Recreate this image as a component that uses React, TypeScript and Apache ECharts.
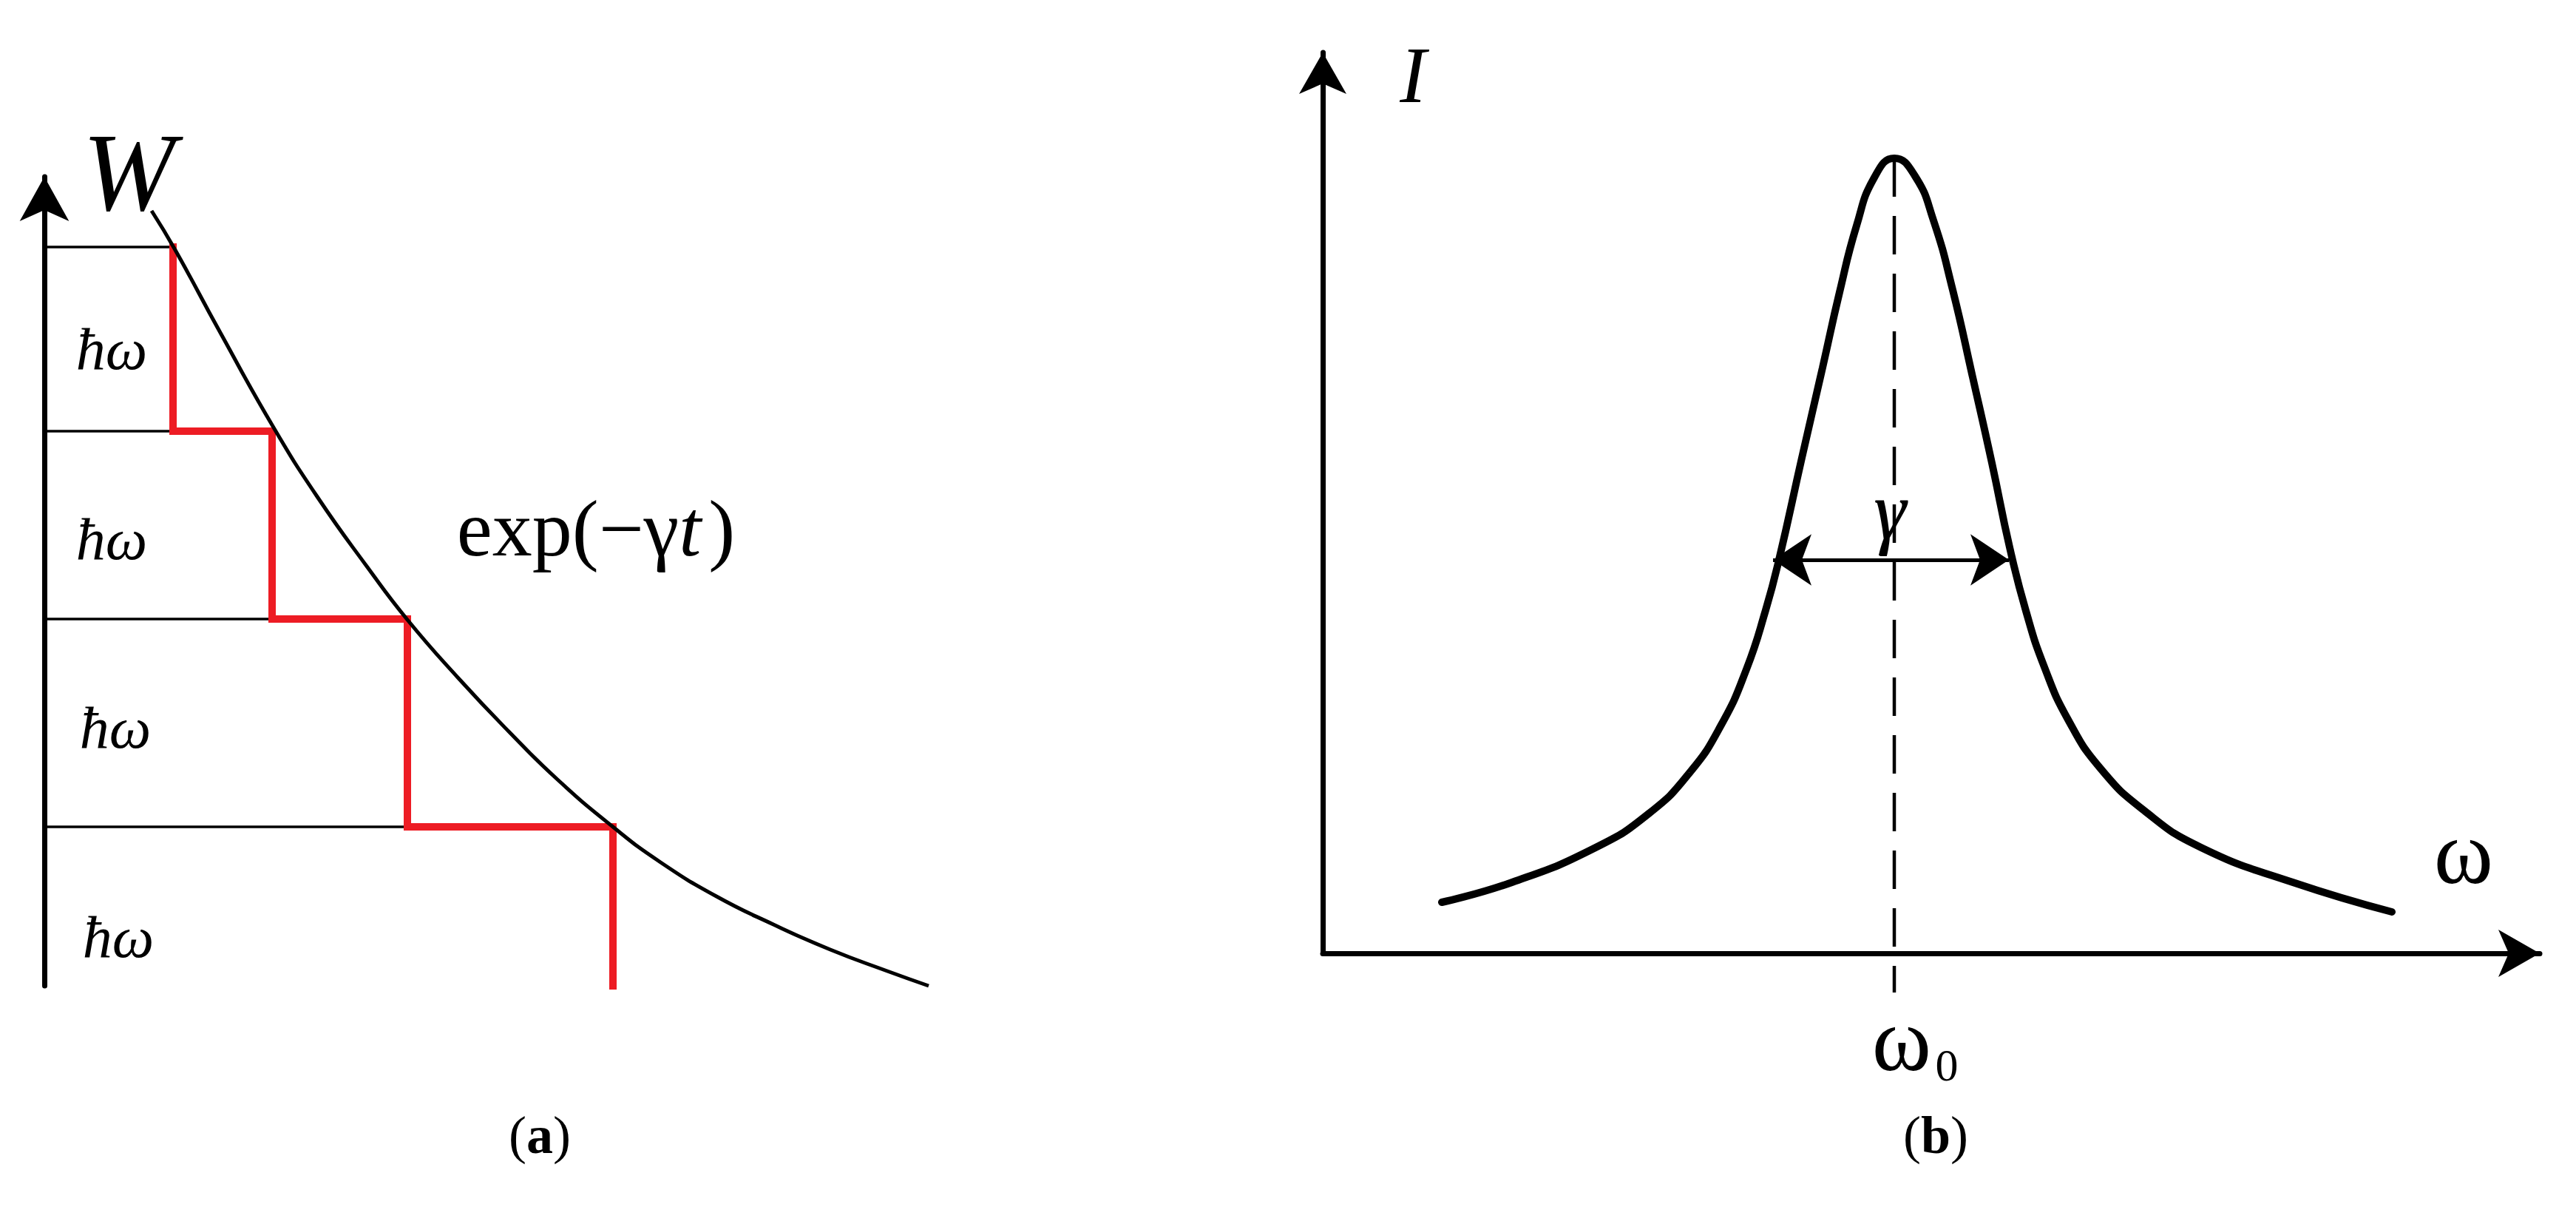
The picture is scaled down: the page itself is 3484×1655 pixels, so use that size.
import React, { useEffect, useRef } from "react";
import * as echarts from "echarts";

// ---------- Panel (a): energy decay W(t) ----------
const decayT = [1.45, 1.77, 2.37, 3.10, 3.70, 4.37, 4.91, 5.60, 6.29, 6.94, 7.69, 8.32, 9.09, 9.86, 10.63, 11.40, 11.96];
const decayW = [10.48, 9.95, 8.85, 7.55, 6.60, 5.66, 4.95, 4.16, 3.43, 2.79, 2.15, 1.68, 1.21, 0.83, 0.49, 0.20, 0.0];
const levelW = [9.99, 7.5, 4.96, 2.15];
const levelStartT = [-0.18, -0.18, -0.08, -0.02];
const stepT = [1.74, 3.08, 4.91, 7.69];
const quantumLabels = ["ħω", "ħω", "ħω", "ħω"];

// ---------- Panel (b): resonance line I(ω) ----------
const lineOmega = [1.61, 2.56, 3.69, 4.41, 4.96, 5.39, 5.73, 5.99, 6.17, 6.48, 6.76, 6.99, 7.22, 7.46, 7.73, 8.01, 8.26, 8.52, 8.79, 9.05, 9.29, 9.51, 9.76, 10.08, 10.51, 11.11, 11.88, 13.12, 14.46];
const lineI = [0.69, 0.96, 1.43, 1.89, 2.44, 3.09, 3.84, 4.64, 5.32, 6.70, 7.92, 8.94, 9.84, 10.49, 10.75, 10.51, 9.91, 8.97, 7.79, 6.63, 5.49, 4.63, 3.87, 3.16, 2.51, 1.93, 1.43, 0.96, 0.56];
const omega0 = 7.73;
const peakI = 10.75;
const dashBottomI = -0.53;
const gammaLeft = 6.09;
const gammaRight = 9.28;
const gammaLevel = 5.32;

const SERIF = '"Liberation Serif", "Times New Roman", serif';

function App() {
  const ref = useRef<HTMLDivElement>(null);

  useEffect(() => {
    document.body.style.margin = "0";
    if (!ref.current) return;
    const chart = echarts.init(ref.current, undefined, { renderer: "svg" });

    const decayData = decayT.map((t, i) => [t, decayW[i]]);
    const stepData: number[][] = [];
    stepT.forEach((t, i) => {
      stepData.push([t, levelW[i]]);
      stepData.push([t, i + 1 < levelW.length ? levelW[i + 1] : 0]);
    });
    const levelSeries = levelW.map((w, i) => ({
      type: "line",
      xAxisIndex: 0,
      yAxisIndex: 0,
      data: [
        [levelStartT[i], w],
        [stepT[Math.max(0, i - 1)], w],
      ],
      symbol: "none",
      clip: false,
      lineStyle: { color: "#000", width: 3.5 },
      z: 2,
    }));

    const resonanceData = lineOmega.map((o, i) => [o, lineI[i]]);

    const text = (x: number, y: number, t: string, size: number, italic = false) => ({
      type: "text",
      x,
      y,
      silent: true,
      style: {
        text: t,
        fontFamily: SERIF,
        fontSize: size,
        fontStyle: italic ? "italic" : "normal",
        fill: "#000",
        align: "center",
        verticalAlign: "middle",
      },
    });

    const labelPos = [
      [151, 472],
      [151, 729],
      [156, 984],
      [160, 1267],
    ];

    const hiddenAxisParts = {
      axisTick: { show: false },
      axisLabel: { show: false },
      splitLine: { show: false },
    };

    chart.setOption({
      animation: false,
      backgroundColor: "#fff",
      grid: [
        { left: 60, top: 239, width: 1200, height: 1094 },
        { left: 1789, top: 71, width: 1646, height: 1218 },
      ],
      xAxis: [
        { type: "value", gridIndex: 0, min: 0, max: 12, show: false },
        {
          type: "value",
          gridIndex: 1,
          min: 0,
          max: 16.46,
          axisLine: {
            show: true,
            onZero: false,
            symbol: ["none", "arrow"],
            symbolSize: [48, 56],
            lineStyle: { color: "#000", width: 7 },
          },
          ...hiddenAxisParts,
        },
      ],
      yAxis: [
        {
          type: "value",
          gridIndex: 0,
          min: 0,
          max: 10.94,
          axisLine: {
            show: true,
            onZero: false,
            symbol: ["none", "arrow"],
            symbolSize: [50, 60],
            lineStyle: { color: "#000", width: 7 },
          },
          ...hiddenAxisParts,
        },
        {
          type: "value",
          gridIndex: 1,
          min: 0,
          max: 12.18,
          axisLine: {
            show: true,
            onZero: false,
            symbol: ["none", "arrow"],
            symbolSize: [48, 56],
            lineStyle: { color: "#000", width: 7 },
          },
          ...hiddenAxisParts,
        },
      ],
      series: [
        ...levelSeries,
        {
          type: "line",
          xAxisIndex: 0,
          yAxisIndex: 0,
          data: stepData,
          symbol: "none",
          clip: false,
          lineStyle: { color: "#ED1C24", width: 10, cap: "square", join: "miter" },
          z: 3,
        },
        {
          type: "line",
          xAxisIndex: 0,
          yAxisIndex: 0,
          data: decayData,
          symbol: "none",
          smooth: 0.5,
          clip: false,
          lineStyle: { color: "#000", width: 5 },
          z: 4,
        },
        {
          type: "line",
          xAxisIndex: 1,
          yAxisIndex: 1,
          data: [
            [omega0, peakI],
            [omega0, dashBottomI],
          ],
          symbol: "none",
          clip: false,
          lineStyle: { color: "#000", width: 4.5, type: [52, 26] },
          z: 2,
          markLine: {
            silent: true,
            symbol: ["arrow", "arrow"],
            symbolSize: 52,
            label: { show: false },
            lineStyle: { color: "#000", width: 5, type: "solid" },
            data: [[{ coord: [gammaLeft, gammaLevel] }, { coord: [gammaRight, gammaLevel] }]],
          },
        },
        {
          type: "line",
          xAxisIndex: 1,
          yAxisIndex: 1,
          data: resonanceData,
          symbol: "none",
          smooth: 0.5,
          clip: false,
          lineStyle: { color: "#000", width: 10, cap: "round" },
          z: 4,
        },
      ],
      graphic: [
        text(174, 233, "W", 150, true),
        ...quantumLabels.map((s, i) => text(labelPos[i][0], labelPos[i][1], s, 80, true)),
        {
          type: "text",
          x: 806,
          y: 714,
          silent: true,
          style: {
            text: "{n|exp(−γ}{i|t}{n|)}",
            align: "center",
            verticalAlign: "middle",
            fill: "#000",
            rich: {
              n: { fontFamily: SERIF, fontSize: 108, fill: "#000" },
              i: { fontFamily: SERIF, fontSize: 108, fontStyle: "italic", fill: "#000", padding: [0, 10, 0, 0] },
            },
          },
        },
        text(1911, 102, "I", 107, true),
        text(3332, 1152, "ω", 122),
        text(2556, 690, "γ", 112, true),
        text(2572, 1405, "ω", 122),
        text(2633, 1440, "0", 62),
        {
          type: "text",
          x: 730,
          y: 1535,
          silent: true,
          style: {
            text: "{n|(}{b|a}{n|)}",
            align: "center",
            verticalAlign: "middle",
            fill: "#000",
            rich: {
              n: { fontFamily: SERIF, fontSize: 72, fill: "#000" },
              b: { fontFamily: SERIF, fontSize: 72, fontWeight: "bold", fill: "#000" },
            },
          },
        },
        {
          type: "text",
          x: 2618,
          y: 1535,
          silent: true,
          style: {
            text: "{n|(}{b|b}{n|)}",
            align: "center",
            verticalAlign: "middle",
            fill: "#000",
            rich: {
              n: { fontFamily: SERIF, fontSize: 72, fill: "#000" },
              b: { fontFamily: SERIF, fontSize: 72, fontWeight: "bold", fill: "#000" },
            },
          },
        },
      ],
    });

    return () => chart.dispose();
  }, []);

  return <div ref={ref} style={{ width: 3484, height: 1655 }} />;
}

export default App;
